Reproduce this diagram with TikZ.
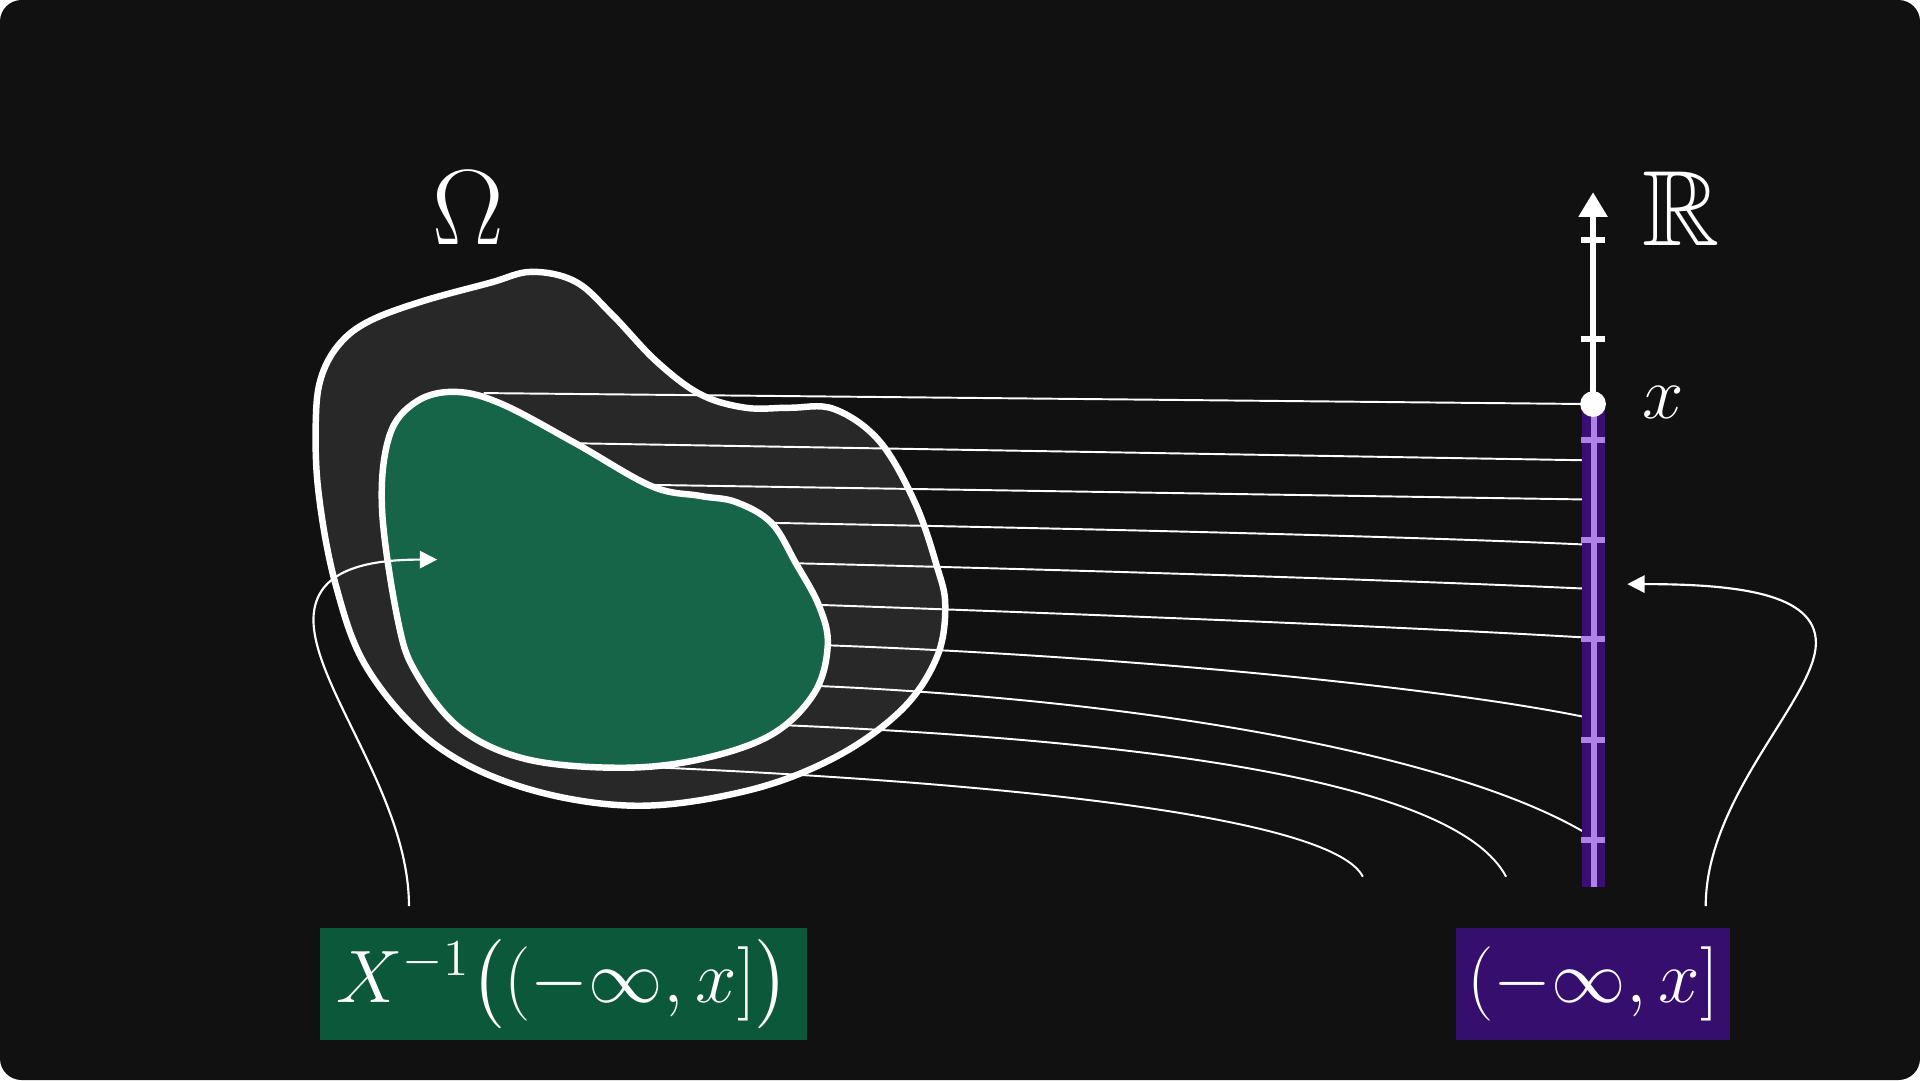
\documentclass[tikz,border=0pt]{standalone}
\usepackage{amsmath}
\usepackage{amssymb}
\usepackage{tikz}
\usetikzlibrary{arrows.meta}
\definecolor{fondo}{HTML}{111111}
\definecolor{gris}{HTML}{282828}
\definecolor{verde}{HTML}{176548}
\definecolor{verdecaja}{HTML}{0B593A}
\definecolor{morado}{HTML}{3A0E72}
\definecolor{moradocaja}{HTML}{360E6E}
\definecolor{lila}{HTML}{AE82E6}
\tikzstyle{contorno} = [draw=white, line width=1.5pt]
\tikzstyle{hilo} = [draw=white, line width=0.45pt]
\tikzstyle{flecha} = [draw=white, line width=0.5pt, -{Triangle[length=4pt,width=4pt]}]
\tikzstyle{etiqueta} = [text=white, inner sep=0pt]
\tikzstyle{caja} = [text=white, inner sep=0pt, minimum height=9.1mm, font=\LARGE]

\begin{document}
\begin{tikzpicture}[x=0.1mm,y=-0.1mm]
	\useasboundingbox (0,0) rectangle (1568,882);
	\fill[fondo, rounded corners=5pt] (0,0) rectangle (1568,882);

	% Omega
	\filldraw[contorno, fill=gris] plot[smooth cycle, tension=0.6] coordinates {
		(434,222) (470,230) (500,257) (536,295) (572,322) (609,333) (645,333)
		(681,334) (718,360) (747,410) (765,462) (772,495) (765,537) (736,580)
		(681,619) (609,646) (518,658) (427,643) (354,607) (300,546) (274,477)
		(260,401) (258,340) (263,306) (278,280) (302,262) (345,246) (400,231)};

	% puntos de salida y llegada de los hilos
	\coordinate (a1) at (395,321);
	\coordinate (a2) at (470,362);
	\coordinate (a3) at (532,396);
	\coordinate (a4) at (630,427);
	\coordinate (a5) at (650,460);
	\coordinate (a6) at (669,494);
	\coordinate (a7) at (676,527);
	\coordinate (a8) at (663,560);
	\coordinate (a9) at (635,592);
	\coordinate (a10) at (520,626);
	\coordinate (punto) at (1301,330);
	\coordinate (b2) at (1301,376);
	\coordinate (b3) at (1301,408);
	\coordinate (b4) at (1301,445);
	\coordinate (b5) at (1301,481);
	\coordinate (b6) at (1301,521);
	\coordinate (b7) at (1301,587);
	\coordinate (b8) at (1301,684);
	\coordinate (c9) at (1230,716);
	\coordinate (c10) at (1113,716);

	% hilos
	\draw[hilo] (a1) -- (punto);
	\draw[hilo] (a2) -- (b2);
	\draw[hilo] (a3) -- (b3);
	\draw[hilo] (a4) .. controls (900,432) and (1150,438) .. (b4);
	\draw[hilo] (a5) .. controls (900,466) and (1150,474) .. (b5);
	\draw[hilo] (a6) .. controls (900,502) and (1150,512) .. (b6);
	\draw[hilo] (a7) .. controls (950,537) and (1200,565) .. (b7);
	\draw[hilo] (a8) .. controls (950,572) and (1200,620) .. (b8);
	\draw[hilo] (a9) .. controls (950,605) and (1190,640) .. (c9);
	\draw[hilo] (a10) .. controls (850,640) and (1090,670) .. (c10);

	% preimagen
	\filldraw[contorno, fill=verde] plot[smooth cycle, tension=0.6] coordinates {
		(372,320) (410,330) (470,362) (532,397) (572,405) (601,410) (630,427)
		(650,460) (669,495) (676,527) (665,566) (630,600) (572,620) (507,627)
		(430,620) (376,595) (340,550) (325,507) (312,416) (318,356) (340,328)};

	% recta real
	\draw[white, line width=1.2pt, -{Triangle[length=5.7pt,width=6.5pt]}] (punto) -- (1301,157);
	\foreach \y in {196,277}
		\draw[white, line width=1.4pt] (1291,\y) -- (1311,\y);
	\fill[morado] (1292,335) rectangle (1311,724);
	\fill[lila] (1299,340) rectangle (1304,724);
	\foreach \y in {359,441,522,604,686}
		\draw[lila, line width=1.4pt] (1291,\y) -- (1311,\y);
	\fill[white] (punto) circle (10.5);

	% etiquetas
	\node[etiqueta, font=\Huge] (omega) at (382,170) {$\Omega$};
	\node[etiqueta, font=\Huge] (reales) at (1373,170) {$\mathbb{R}$};
	\node[etiqueta, font=\LARGE] (equis) at (1358,329) {$x$};
	\node[caja, fill=verdecaja, minimum width=39.8mm] (preimagen) at (460,803.5)
		{$X^{-1}\big((-\infty,x]\big)$};
	\node[caja, fill=moradocaja, minimum width=22.4mm] (intervalo) at (1301,803.5)
		{$(-\infty,x]$};

	% flechas
	\coordinate (p1) at (334,740);
	\coordinate (q1) at (357,457);
	\coordinate (p2) at (1393,740);
	\coordinate (q2) at (1329,477);
	\draw[flecha] (p1) .. controls (334,650) and (255,560) .. (256,505)
		.. controls (257,465) and (300,457) .. (q1);
	\draw[flecha] (p2) .. controls (1393,650) and (1483,570) .. (1483,525)
		.. controls (1483,485) and (1420,477) .. (q2);
\end{tikzpicture}
\end{document}
